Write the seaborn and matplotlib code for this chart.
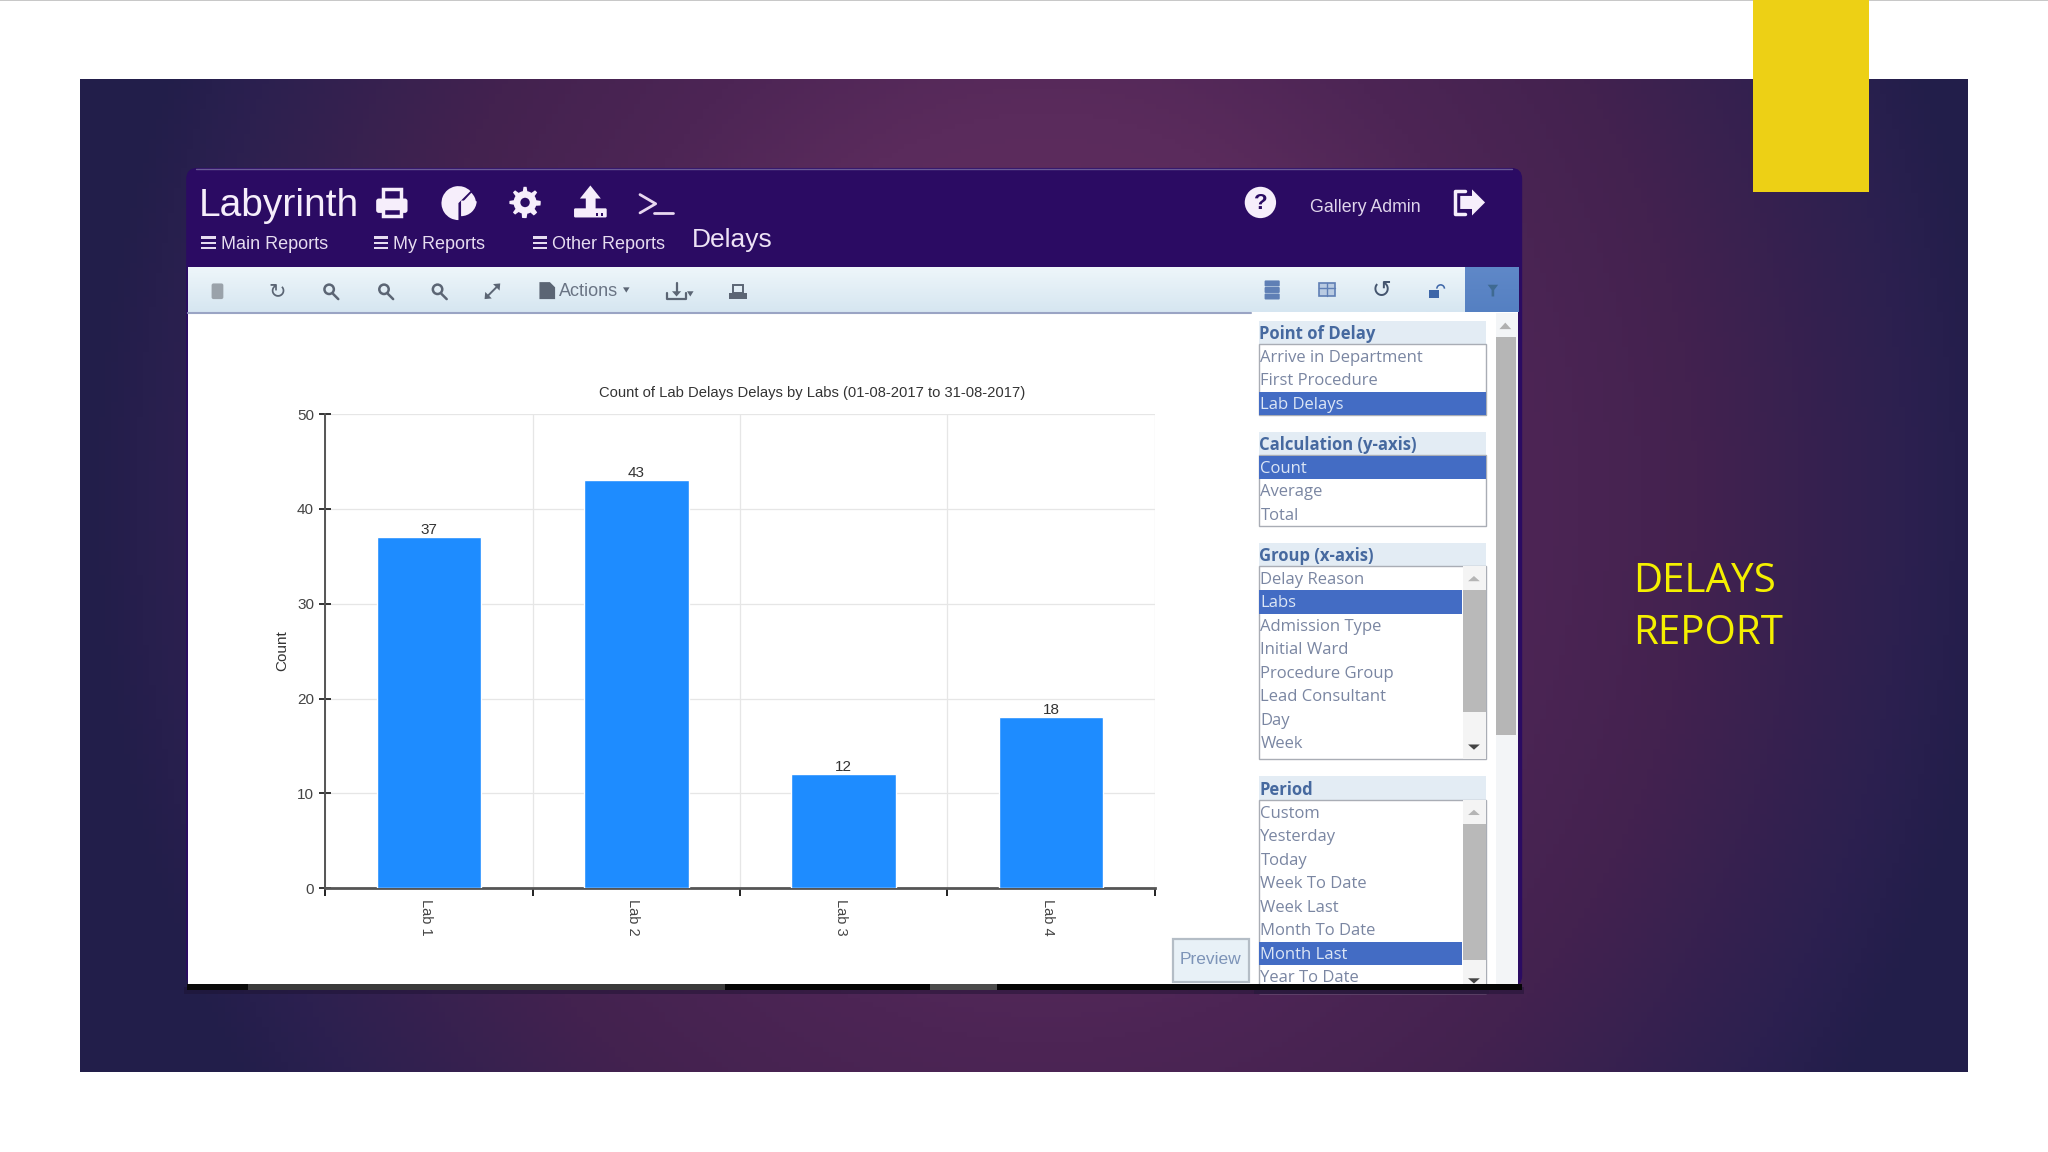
import numpy as np
import pandas as pd
import matplotlib
matplotlib.use('Agg')
import matplotlib.pyplot as plt
import seaborn as sns
from matplotlib.colors import LinearSegmentedColormap
from matplotlib.patches import Rectangle, FancyBboxPatch, Wedge, Circle, Polygon
from matplotlib.transforms import ScaledTranslation

# chart values
labs = ['Lab 1', 'Lab 2', 'Lab 3', 'Lab 4']
counts = [37, 43, 12, 18]
y_ticks = [0, 10, 20, 30, 40, 50]
chart_title = 'Count of Lab Delays Delays by Labs (01-08-2017 to 31-08-2017)'

# side panel text
point_items = ['Arrive in Department', 'First Procedure', 'Lab Delays']
calc_items = ['Count', 'Average', 'Total']
group_items = ['Delay Reason', 'Labs', 'Admission Type', 'Initial Ward',
               'Procedure Group', 'Lead Consultant', 'Day', 'Week']
period_items = ['Custom', 'Yesterday', 'Today', 'Week To Date', 'Week Last',
                'Month To Date', 'Month Last', 'Year To Date']
menu_items = ['Main Reports', 'My Reports', 'Other Reports']

W, H = 1568, 882
HEADER = '#2b0b63'
UI_FONT = 'Liberation Sans'
LIST_FONT = 'Open Sans'

sns.set_theme(style='white')
fig = plt.figure(figsize=(20.48, 11.52), dpi=100, facecolor='white')

# overlay in px of a 1568 wide picture, used for the slide and the app window
bg = fig.add_axes([0, 0, 1, 1], zorder=0)
bg.set_xlim(0, W)
bg.set_ylim(H, 0)
bg.axis('off')

# slide background
xx, yy = np.meshgrid(np.linspace(61, 1506, 300), np.linspace(61, 821, 200))
dist = np.sqrt(((xx - 800) / 700) ** 2 + ((yy - 380) / 800) ** 2)
slide_cmap = LinearSegmentedColormap.from_list(
    'slide', [(0, '#69325f'), (0.35, '#5a2b5c'), (0.5, '#4d2555'), (0.68, '#43224f'), (0.9, '#2c2050'), (1, '#221e4a')])
bg.imshow(dist, extent=(61, 1506, 821, 61), cmap=slide_cmap, vmin=0, vmax=1.05, aspect='auto', zorder=1)
bg.set_xlim(0, W)
bg.set_ylim(H, 0)

bg.add_patch(Rectangle((0, 0), W, 1, color='#c8c8c8', lw=0, zorder=2))
bg.add_patch(Rectangle((1342, 0), 89, 147, color='#edd015', lw=0, zorder=3))
bg.text(1250, 445.5, 'DELAYS', color='#f4f000', fontsize=29, family=LIST_FONT, va='center', zorder=3)
bg.text(1250, 485, 'REPORT', color='#f4f000', fontsize=29, family=LIST_FONT, va='center', zorder=3)

# app window with its soft shadow
bg.add_patch(Rectangle((141, 756), 1026, 5, color='#1c1230', alpha=0.45, lw=0, zorder=2))
bg.add_patch(FancyBboxPatch((146, 132), 1016, 620, boxstyle='round,pad=3,rounding_size=8',
                            fc=HEADER, ec=HEADER, lw=0.8, zorder=3))
bg.plot([150, 1158], [129.3, 129.3], color='#6a5a96', lw=1, zorder=4)
bg.add_patch(Rectangle((144, 238), 1018, 516, color='white', lw=0, zorder=4))

# toolbar
grad = np.linspace(0, 1, 40).reshape(-1, 1)
bar_cmap = LinearSegmentedColormap.from_list('bar', ['#eef6fa', '#d6e6f1'])
bg.imshow(grad, extent=(144, 1122, 239, 205), cmap=bar_cmap, aspect='auto', zorder=5)
blue_cmap = LinearSegmentedColormap.from_list('blue', ['#5f88c8', '#5580c2'])
bg.imshow(grad, extent=(1122, 1163, 239, 205), cmap=blue_cmap, aspect='auto', zorder=5)
bg.set_xlim(0, W)
bg.set_ylim(H, 0)
bg.plot([144, 958], [239.5, 239.5], color='#9aa4c4', lw=1.5, zorder=6)

# header text
ICON = '#f6eefb'
bg.text(152, 158, 'Labyrinth', color=ICON, fontsize=28, family=UI_FONT, va='center', zorder=7)
bg.text(530, 184, 'Delays', color='#eee3f6', fontsize=19, family=UI_FONT, va='center', zorder=7)
bg.text(1003, 159, 'Gallery Admin', color='#e0d6ec', fontsize=12.8, family=UI_FONT, va='center', zorder=7)
for x_icon, x_text, label in zip([154, 286, 408], [169, 301, 423], menu_items):
    for dy in (-4, 0, 4):
        bg.add_patch(Rectangle((x_icon, 186 + dy - 1), 11, 2, color='#e6dcf0', lw=0, zorder=7))
    bg.text(x_text, 187.5, label, color='#e6dcf0', fontsize=13, family=UI_FONT, va='center', zorder=7)

# printer
bg.add_patch(Rectangle((293, 145), 14, 10, fc=HEADER, ec=ICON, lw=2.5, zorder=7))
bg.add_patch(FancyBboxPatch((289, 153), 22, 9, boxstyle='round,pad=1,rounding_size=2', fc=ICON, lw=0, zorder=7))
bg.add_patch(Rectangle((293, 159), 14, 6.5, fc=HEADER, ec=ICON, lw=2.5, zorder=8))
# pie
bg.add_patch(Wedge((351, 155.5), 13, 90, 315, fc=ICON, lw=0, zorder=7))
bg.add_patch(Wedge((353, 153.5), 12, 3, 90, fc=ICON, lw=0, zorder=7))
bg.add_patch(Wedge((353, 156), 11.5, -47, -3, fc=ICON, lw=0, zorder=7))
# gear
angles = np.linspace(0, 2 * np.pi, 64, endpoint=False)
teeth = np.where(np.cos(8 * angles) > 0, 12, 8.8)
bg.add_patch(Polygon(np.column_stack([402 + teeth * np.cos(angles), 155 + teeth * np.sin(angles)]),
                     fc=ICON, lw=0, zorder=7))
bg.add_patch(Circle((402, 155), 3.6, fc=HEADER, lw=0, zorder=8))
# upload
bg.add_patch(Polygon([(452, 142), (460, 152), (456, 152), (456, 162), (448.5, 162), (448.5, 152), (444, 152)],
                     fc=ICON, lw=0, zorder=7))
bg.add_patch(FancyBboxPatch((440, 160), 24, 6, boxstyle='round,pad=0.5,rounding_size=1', fc=ICON, lw=0, zorder=7))
bg.add_patch(Rectangle((456, 163), 2, 2, fc=HEADER, lw=0, zorder=8))
bg.add_patch(Rectangle((460, 163), 2, 2, fc=HEADER, lw=0, zorder=8))
# terminal
bg.plot([490, 502, 490], [149, 156, 163], color='#e8d8f0', lw=2, zorder=7)
bg.plot([501, 515], [163, 163], color='#e8d8f0', lw=2, zorder=7)
# help
bg.add_patch(Circle((965, 155), 12, fc=ICON, lw=0, zorder=7))
bg.text(965, 156, '?', color=HEADER, fontsize=16, fontweight='bold', family=UI_FONT,
        ha='center', va='center', zorder=8)
# log out
bg.plot([1122, 1114, 1114, 1122], [146, 146, 164, 164], color=ICON, lw=2.5, zorder=7)
bg.add_patch(Polygon([(1137, 155), (1127, 145), (1127, 150), (1118, 150), (1118, 160), (1127, 160), (1127, 165)],
                     fc=ICON, lw=0, zorder=7))

# toolbar icons
TOOL = '#5b6574'
bg.add_patch(FancyBboxPatch((163, 218), 7, 10, boxstyle='round,pad=1,rounding_size=1.5', fc='#9aa2aa', lw=0, zorder=7))
bg.text(212, 223, '\u21bb', color=TOOL, fontsize=15, family='DejaVu Sans', ha='center', va='center', zorder=7)
for x_icon in (253, 295, 336):
    bg.add_patch(Circle((x_icon - 1, 221.5), 3.6, fc='none', ec=TOOL, lw=1.8, zorder=7))
    bg.plot([x_icon + 2, x_icon + 6], [225, 229], color=TOOL, lw=1.8, zorder=7)
# expand arrows
bg.plot([372.5, 381.5], [227.5, 218.5], color=TOOL, lw=1.4, zorder=7)
bg.add_patch(Polygon([(383, 217), (377.5, 217.5), (382.5, 222.5)], fc=TOOL, lw=0, zorder=7))
bg.add_patch(Polygon([(371, 229), (376.5, 228.5), (371.5, 223.5)], fc=TOOL, lw=0, zorder=7))
bg.add_patch(Polygon([(413, 216), (421, 216), (425, 220), (425, 229), (413, 229)], fc=TOOL, lw=0, zorder=7))
bg.text(428, 223, 'Actions', color='#6a7484', fontsize=13, family=UI_FONT, va='center', zorder=7)
bg.add_patch(Polygon([(477, 220), (482, 220), (479.5, 224)], fc=TOOL, lw=0, zorder=7))
# download
bg.plot([511, 511, 525, 525], [224, 229, 229, 224], color=TOOL, lw=1.6, zorder=7)
bg.plot([518, 518], [217, 224], color=TOOL, lw=1.6, zorder=7)
bg.add_patch(Polygon([(514.5, 223), (521.5, 223), (518, 227)], fc=TOOL, lw=0, zorder=7))
bg.add_patch(Polygon([(526, 223), (531, 223), (528.5, 227)], fc=TOOL, lw=0, zorder=7))
# small printer
bg.add_patch(Rectangle((561, 218), 8, 6, fc='none', ec=TOOL, lw=1.4, zorder=7))
bg.add_patch(Rectangle((558, 224), 14, 5, fc=TOOL, lw=0, zorder=7))

TOOL_BLUE = '#5f7fb5'
for dy in (-5, 0, 5):
    bg.add_patch(FancyBboxPatch((969, 222 + dy - 1.5), 10, 3, boxstyle='round,pad=0.8', fc=TOOL_BLUE, lw=0, zorder=7))
bg.add_patch(Rectangle((1010, 217), 12, 10, fc='#b9cbe2', ec=TOOL_BLUE, lw=1.2, zorder=7))
bg.plot([1010, 1022], [220.5, 220.5], color=TOOL_BLUE, lw=1, zorder=8)
bg.plot([1016, 1016], [217, 227], color=TOOL_BLUE, lw=1, zorder=8)
bg.text(1058, 222, '\u21ba', color='#44556e', fontsize=17, family='DejaVu Sans', ha='center', va='center', zorder=7)
bg.add_patch(Rectangle((1094, 222), 8, 6, fc='#3d66a8', lw=0, zorder=7))
bg.add_patch(Wedge((1103, 221), 3.5, 180, 360, width=1.2, fc='#3d66a8', lw=0, zorder=7))
bg.add_patch(Polygon([(1139, 218), (1147, 218), (1144, 222), (1144, 227), (1142, 227), (1142, 222)],
                     fc='#3f6a92', lw=0, zorder=7))

# preview button
bg.add_patch(Rectangle((898, 719), 58, 33, fc='#e8f1f7', ec='#b4bdc6', lw=1.6, zorder=7))
bg.text(927, 734.5, 'Preview', color='#7d94b8', fontsize=12.5, family=UI_FONT, ha='center', va='center', zorder=8)

# side panel lists
TXT = '#7a86a2'
SEL = '#436cc4'


def draw_list(title, items, y_head, y_first, selected, x1, bottom, scroll=None):
    bg.add_patch(Rectangle((964, y_head - 9), 174, 18, fc='#e3ecf4', lw=0, zorder=6))
    bg.text(964, y_head + 1, title, color='#46699f', fontsize=12, fontweight='bold', family=LIST_FONT,
            va='center', zorder=8)
    bg.add_patch(Rectangle((964, y_head + 9), 174, bottom - y_head - 9, fc='white', ec='#a9adb5', lw=1, zorder=6))
    for i, item in enumerate(items):
        y = y_first + i * 18
        if item == selected:
            bg.add_patch(Rectangle((964, y - 9), x1 - 964, 18, fc=SEL, lw=0, zorder=7))
        t = bg.text(965, y + 1, item, color='#dce6f5' if item == selected else TXT, fontsize=12,
                    family=LIST_FONT, va='center', zorder=8)
        t.set_clip_path(Rectangle((960, 238), 200, 515, transform=bg.transData))
    if scroll is not None:
        bg.add_patch(Rectangle((1120, y_head + 9), 17.5, bottom - y_head - 9, fc='#f4f4f4', lw=0, zorder=7))
        bg.add_patch(Rectangle((1120, scroll[0]), 17.5, scroll[1] - scroll[0], fc='#b9b9b9', lw=0, zorder=7))
        bg.add_patch(Polygon([(1124, y_first + 2), (1133, y_first + 2), (1128.5, y_first - 2)],
                             fc='#b5b5b5', lw=0, zorder=8))
        bg.add_patch(Polygon([(1124, bottom - 11), (1133, bottom - 11), (1128.5, bottom - 7)],
                             fc='#444444', lw=0, zorder=8))


draw_list('Point of Delay', point_items, 254.5, 273, 'Lab Delays', 1138, 318)
draw_list('Calculation (y-axis)', calc_items, 339.5, 358, 'Count', 1138, 403)
draw_list('Group (x-axis)', group_items, 424.5, 443, 'Labs', 1119, 581, scroll=(452, 545))
draw_list('Period', period_items, 603.5, 622, 'Month Last', 1119, 760, scroll=(631, 735))

# outer scrollbar
bg.add_patch(Rectangle((1145, 240), 17, 513, fc='#f3f5f7', lw=0, zorder=6))
bg.add_patch(Rectangle((1145, 258), 16, 305, fc='#b6b6b6', lw=0, zorder=7))
bg.add_patch(Polygon([(1148, 252), (1157, 252), (1152.5, 247)], fc='#b0b0b0', lw=0, zorder=7))

# black strip under the window, on top of the clipped period list
for x0, x1, c in [(143, 190, '#0a0a0a'), (190, 555, '#3a3a3a'), (555, 712, '#050505'),
                  (712, 763, '#4a4a4a'), (763, 1165, '#050505')]:
    bg.add_patch(Rectangle((x0, 753), x1 - x0, 5, color=c, lw=0, zorder=9))
bg.add_patch(Rectangle((960, 758), 180, 3, color='#2c1a3e', lw=0, zorder=9))

# the chart itself
df = pd.DataFrame({'lab': labs, 'count': counts})
ax = fig.add_axes([249 / W, 1 - 680 / H, (884 - 249) / W, (680 - 317) / H], zorder=2)
ax.patch.set_alpha(0)
sns.barplot(data=df, x='lab', y='count', color='#1e8cff', width=0.505, saturation=1, ax=ax, zorder=3)
ax.set_xlim(-0.5, 3.5)
ax.set_ylim(0, 50)
ax.set_xlabel('')
ax.set_ylabel('Count', fontsize=11, family=UI_FONT, color='#333333', labelpad=6)

boundaries = [-0.5, 0.5, 1.5, 2.5, 3.5]
ax.set_xticks(boundaries)
ax.set_xticklabels([])
ax.set_xticks(range(len(labs)), labs, minor=True)
ax.set_yticks(y_ticks)
ax.tick_params(axis='x', which='major', length=6, width=1.4, color='#222222', direction='out', bottom=True)
ax.tick_params(axis='x', which='minor', length=0, pad=8, labelrotation=270, labelsize=10.5, labelcolor='#444444')
ax.tick_params(axis='y', length=8, width=1.4, color='#333333', direction='inout', left=True,
               labelsize=11, labelcolor='#444444', pad=4)
nudge = ScaledTranslation(-2 / 72, 0, fig.dpi_scale_trans)
for lab in ax.get_xticklabels(minor=True):
    lab.set_family(UI_FONT)
    lab.set_transform(lab.get_transform() + nudge)
for lab in ax.get_yticklabels():
    lab.set_family(UI_FONT)

ax.grid(True, which='major', color='#e6e6e6', lw=0.9)
ax.set_axisbelow(True)
for side in ('top', 'right'):
    ax.spines[side].set_visible(False)
ax.spines['left'].set_color('#555555')
ax.spines['left'].set_linewidth(1.4)
ax.spines['bottom'].set_color('#555555')
ax.spines['bottom'].set_linewidth(2)

ax.bar_label(ax.containers[0], labels=[str(v) for v in counts], padding=0, fontsize=11,
             family=UI_FONT, color='#333333')
ax.text((622 - 249) / 635, 1 + 16 / 363, chart_title, transform=ax.transAxes, ha='center', va='center',
        fontsize=10.6, family=UI_FONT, color='#333333')

fig.savefig('out.png', dpi=100)
